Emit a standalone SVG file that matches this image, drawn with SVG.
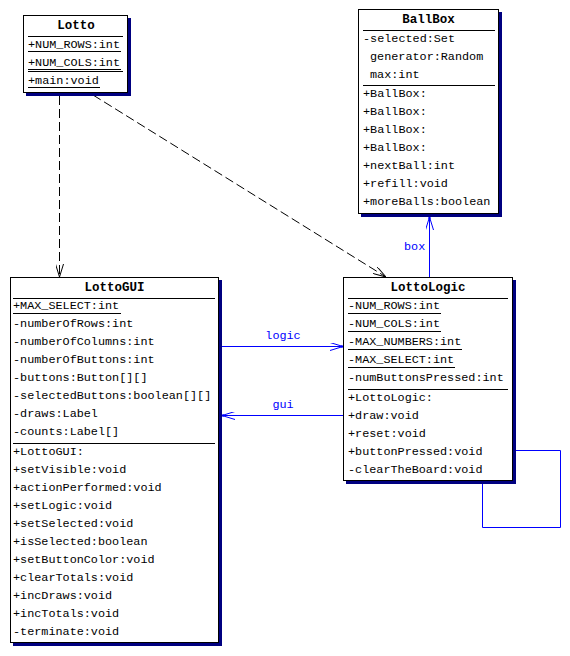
<svg xmlns="http://www.w3.org/2000/svg" width="570" height="656" viewBox="0 0 570 656">
<style>
.bg{fill:#fff}
.shadow{fill:#000080}
.box{fill:#fff;stroke:#000;stroke-width:1}
.sep{stroke:#000;stroke-width:1}
.t{font-family:"Liberation Mono",monospace;font-size:11.8px;fill:#000}
.title{font-family:"Liberation Mono",monospace;font-size:12.5px;font-weight:bold;fill:#000;text-anchor:middle}
.dash{stroke:#000;stroke-width:1;stroke-dasharray:9 4;fill:none}
.assoc{stroke:#0000ff;stroke-width:1;fill:none}
.lbl{font-family:"Liberation Mono",monospace;font-size:11.8px;fill:#0000ff}
</style>
<defs>
<marker id="openBlack" viewBox="0 0 13 8" refX="13" refY="4" markerWidth="13" markerHeight="8" markerUnits="userSpaceOnUse" orient="auto">
<path d="M0,0 L13,4 L0,8" fill="none" stroke="#000" stroke-width="1"/>
</marker>
<marker id="openBlue" viewBox="0 0 13 8" refX="13" refY="4" markerWidth="13" markerHeight="8" markerUnits="userSpaceOnUse" orient="auto">
<path d="M0,0 L13,4 L0,8" fill="none" stroke="#0000ff" stroke-width="1"/>
<circle cx="12" cy="4" r="1.2" fill="#0000ff"/>
</marker>
</defs>
<rect class="bg" x="0" y="0" width="570" height="656"/>

<g id="connectors">
<path class="dash" d="M59.5,96 V277" marker-end="url(#openBlack)"/>
<path class="dash" d="M93,95 L386,277" marker-end="url(#openBlack)"/>
<path class="assoc" d="M429.5,277 V217" marker-end="url(#openBlue)"/>
<text class="lbl" x="404" y="250">box</text>
<path class="assoc" d="M222,346.5 H343" marker-end="url(#openBlue)"/>
<text class="lbl" x="283" y="339" text-anchor="middle">logic</text>
<path class="assoc" d="M343,415.5 H222" marker-end="url(#openBlue)"/>
<text class="lbl" x="283" y="408" text-anchor="middle">gui</text>
<path class="assoc" d="M513,450.5 H560.5 V527.5 H482.5 V484"/>
</g>

<g id="Lotto">
<rect class="shadow" x="26" y="18" width="105" height="78"/>
<rect class="box" x="23.5" y="15.5" width="104" height="77"/>
<text class="title" x="76" y="29">Lotto</text>
<line class="sep" x1="28" y1="36.5" x2="123" y2="36.5"/>
<text class="t" x="28" y="48">+NUM_ROWS:int</text>
<line class="sep" x1="28" y1="51.5" x2="121" y2="51.5"/>
<text class="t" x="28" y="66">+NUM_COLS:int</text>
<line class="sep" x1="28" y1="69.5" x2="121" y2="69.5"/>
<line class="sep" x1="28" y1="71.5" x2="123" y2="71.5"/>
<text class="t" x="28" y="84">+main:void</text>
<line class="sep" x1="28" y1="87.5" x2="100" y2="87.5"/>
</g>

<g id="BallBox">
<rect class="shadow" x="361" y="12" width="141" height="205"/>
<rect class="box" x="358.5" y="9.5" width="140" height="204"/>
<text class="title" x="428.5" y="23">BallBox</text>
<line class="sep" x1="363" y1="30.5" x2="495" y2="30.5"/>
<text class="t" x="363" y="42">-selected:Set</text>
<text class="t" x="370" y="60">generator:Random</text>
<text class="t" x="370" y="78">max:int</text>
<line class="sep" x1="363" y1="85.5" x2="495" y2="85.5"/>
<text class="t" x="363" y="97">+BallBox:</text>
<text class="t" x="363" y="115">+BallBox:</text>
<text class="t" x="363" y="133">+BallBox:</text>
<text class="t" x="363" y="151">+BallBox:</text>
<text class="t" x="363" y="169">+nextBall:int</text>
<text class="t" x="363" y="187">+refill:void</text>
<text class="t" x="363" y="205">+moreBalls:boolean</text>
</g>

<g id="LottoGUI">
<rect class="shadow" x="13" y="280" width="209" height="366"/>
<rect class="box" x="10.5" y="277.5" width="208" height="365"/>
<text class="title" x="114.5" y="291">LottoGUI</text>
<line class="sep" x1="13" y1="298.5" x2="215" y2="298.5"/>
<text class="t" x="13" y="309">+MAX_SELECT:int</text>
<line class="sep" x1="13" y1="313.5" x2="121" y2="313.5"/>
<text class="t" x="13" y="327">-numberOfRows:int</text>
<text class="t" x="13" y="345">-numberOfColumns:int</text>
<text class="t" x="13" y="363">-numberOfButtons:int</text>
<text class="t" x="13" y="381">-buttons:Button[][]</text>
<text class="t" x="13" y="399">-selectedButtons:boolean[][]</text>
<text class="t" x="13" y="417">-draws:Label</text>
<text class="t" x="13" y="435">-counts:Label[]</text>
<line class="sep" x1="13" y1="443.5" x2="215" y2="443.5"/>
<text class="t" x="13" y="455">+LottoGUI:</text>
<text class="t" x="13" y="473">+setVisible:void</text>
<text class="t" x="13" y="491">+actionPerformed:void</text>
<text class="t" x="13" y="509">+setLogic:void</text>
<text class="t" x="13" y="527">+setSelected:void</text>
<text class="t" x="13" y="545">+isSelected:boolean</text>
<text class="t" x="13" y="563">+setButtonColor:void</text>
<text class="t" x="13" y="581">+clearTotals:void</text>
<text class="t" x="13" y="599">+incDraws:void</text>
<text class="t" x="13" y="617">+incTotals:void</text>
<text class="t" x="13" y="635">-terminate:void</text>
</g>

<g id="LottoLogic">
<rect class="shadow" x="346" y="280" width="170" height="204"/>
<rect class="box" x="343.5" y="277.5" width="169" height="203"/>
<text class="title" x="428" y="291">LottoLogic</text>
<line class="sep" x1="348" y1="298.5" x2="508" y2="298.5"/>
<text class="t" x="348" y="309">-NUM_ROWS:int</text>
<line class="sep" x1="348" y1="313.5" x2="441" y2="313.5"/>
<text class="t" x="348" y="327">-NUM_COLS:int</text>
<line class="sep" x1="348" y1="331.5" x2="441" y2="331.5"/>
<text class="t" x="348" y="345">-MAX_NUMBERS:int</text>
<line class="sep" x1="348" y1="349.5" x2="462" y2="349.5"/>
<text class="t" x="348" y="363">-MAX_SELECT:int</text>
<line class="sep" x1="348" y1="367.5" x2="455" y2="367.5"/>
<text class="t" x="348" y="381">-numButtonsPressed:int</text>
<line class="sep" x1="348" y1="389.5" x2="508" y2="389.5"/>
<text class="t" x="348" y="401">+LottoLogic:</text>
<text class="t" x="348" y="419">+draw:void</text>
<text class="t" x="348" y="437">+reset:void</text>
<text class="t" x="348" y="455">+buttonPressed:void</text>
<text class="t" x="348" y="473">-clearTheBoard:void</text>
</g>
</svg>
